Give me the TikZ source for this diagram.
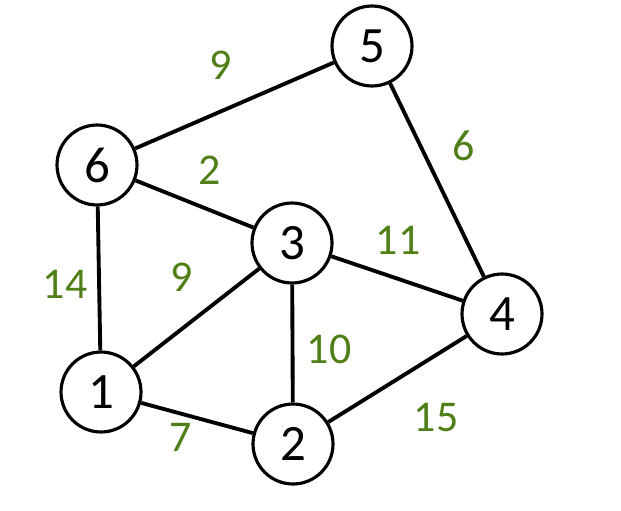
\documentclass[tikz,border=0pt]{standalone}
\usepackage{fontspec}
\setmainfont{Carlito}
\definecolor{lblgreen}{RGB}{79,127,22}
\begin{document}
\begin{tikzpicture}[x=0.02cm,y=-0.02cm,
  vert/.style={circle,draw,line width=1.8pt,minimum size=1.6cm,inner sep=0pt,font=\fontsize{29}{31}\selectfont},
  edge/.style={line width=2.2pt},
  wt/.style={text=lblgreen,font=\fontsize{25}{27}\selectfont}]
\useasboundingbox (0,0) rectangle (621,510);
\node[vert] (n5) at (372,46) {5};
\node[vert] (n6) at (97,165) {6};
\node[vert] (n3) at (292,243) {3};
\node[vert] (n4) at (502,314) {4};
\node[vert] (n1) at (101,392) {1};
\node[vert] (n2) at (293,444) {2};
\draw[edge] (n6)--(n5);
\draw[edge] (n5)--(n4);
\draw[edge] (n6)--(n3);
\draw[edge] (n3)--(n4);
\draw[edge] (n6)--(n1);
\draw[edge] (n1)--(n3);
\draw[edge] (n3)--(n2);
\draw[edge] (n1)--(n2);
\draw[edge] (n2)--(n4);
\node[wt] (w65) at (221,65) {9};
\node[wt] (w63) at (210,170) {2};
\node[wt] (w54) at (464,146) {6};
\node[wt] (w34) at (398,240) {11};
\node[wt] (w61) at (65,284) {14};
\node[wt] (w13) at (182,277) {9};
\node[wt] (w32) at (329,349) {10};
\node[wt] (w12) at (181,437) {7};
\node[wt] (w24) at (436,418) {15};
\end{tikzpicture}
\end{document}
